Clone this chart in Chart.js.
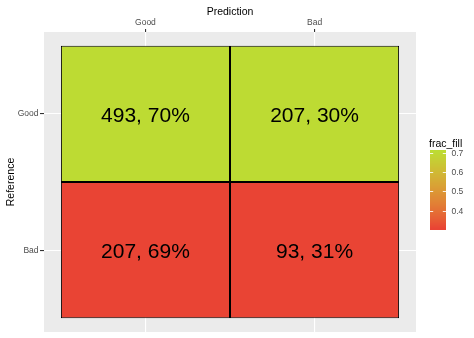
<!DOCTYPE html>
<html>
<head>
<meta charset="utf-8">
<script src="https://cdn.jsdelivr.net/npm/chart.js@4/dist/chart.umd.min.js"></script>
<style>
  html, body { margin: 0; padding: 0; background: #ffffff; }
  #wrap { width: 474px; height: 338px; }
</style>
</head>
<body>
<div id="wrap"><canvas id="c" width="474" height="338"></canvas></div>
<script>
// Confusion matrix: rows = reference class, columns = predicted class
const predLabels = ['Good', 'Bad'];
const refLabels = ['Good', 'Bad'];
const counts = [[493, 207], [207, 93]];
const percents = [[70, 30], [69, 31]];
const fracFill = [[0.704, 0.704], [0.31, 0.31]];
const legendTicks = [0.4, 0.5, 0.6, 0.7];

const FONT = "'Liberation Sans', Arial, Helvetica, sans-serif";
const lowRGB = [233, 68, 52];
const highRGB = [189, 219, 51];

// --- colour scale: interpolate in CIE Lab between low and high ---
function toLin(c) { c /= 255; return c <= 0.04045 ? c / 12.92 : Math.pow((c + 0.055) / 1.055, 2.4); }
function fromLin(c) {
  const v = c <= 0.0031308 ? 12.92 * c : 1.055 * Math.pow(c, 1 / 2.4) - 0.055;
  return Math.round(Math.max(0, Math.min(1, v)) * 255);
}
function rgbToLab(rgb) {
  const R = toLin(rgb[0]), G = toLin(rgb[1]), B = toLin(rgb[2]);
  const X = (0.4124 * R + 0.3576 * G + 0.1805 * B) / 0.95047;
  const Y = 0.2126 * R + 0.7152 * G + 0.0722 * B;
  const Z = (0.0193 * R + 0.1192 * G + 0.9505 * B) / 1.08883;
  const f = t => t > 0.008856 ? Math.cbrt(t) : 7.787 * t + 16 / 116;
  const fx = f(X), fy = f(Y), fz = f(Z);
  return [116 * fy - 16, 500 * (fx - fy), 200 * (fy - fz)];
}
function labToRgb(lab) {
  const fy = (lab[0] + 16) / 116, fx = fy + lab[1] / 500, fz = fy - lab[2] / 200;
  const fi = t => t * t * t > 0.008856 ? t * t * t : (t - 16 / 116) / 7.787;
  const X = fi(fx) * 0.95047, Y = fi(fy), Z = fi(fz) * 1.08883;
  const R = 3.2406 * X - 1.5372 * Y - 0.4986 * Z;
  const G = -0.9689 * X + 1.8758 * Y + 0.0415 * Z;
  const B = 0.0557 * X - 0.2040 * Y + 1.0570 * Z;
  return [fromLin(R), fromLin(G), fromLin(B)];
}
const lowLab = rgbToLab(lowRGB), highLab = rgbToLab(highRGB);
const allFrac = fracFill.flat();
const fracMin = Math.min(...allFrac), fracMax = Math.max(...allFrac);
function fillColor(v) {
  const t = Math.max(0, Math.min(1, (v - fracMin) / (fracMax - fracMin)));
  const c = labToRgb(lowLab.map((l, k) => l + (highLab[k] - l) * t));
  return `rgb(${c[0]},${c[1]},${c[2]})`;
}

// one floating-bar dataset per reference row; each bar is one tile
const nRef = refLabels.length;
const datasets = refLabels.map((ref, i) => ({
  label: ref,
  data: predLabels.map((p, j) => ({ x: j + 1, y: [nRef - i - 0.5, nRef - i + 0.5] })),
  backgroundColor: predLabels.map((p, j) => fillColor(fracFill[i][j])),
  borderColor: '#000000',
  borderWidth: 1,
  borderSkipped: false,
  inflateAmount: 0,
  barPercentage: 1,
  categoryPercentage: 1,
  grouped: false
}));

const panelBg = {
  id: 'panelBg',
  beforeDraw(chart) {
    const { ctx, chartArea: a } = chart;
    ctx.save();
    ctx.fillStyle = '#EBEBEB';
    ctx.fillRect(a.left, a.top, a.right - a.left, a.bottom - a.top);
    ctx.restore();
  }
};

const cellText = {
  id: 'cellText',
  afterDatasetsDraw(chart) {
    const ctx = chart.ctx;
    ctx.save();
    ctx.font = `21px ${FONT}`;
    ctx.fillStyle = '#000000';
    ctx.textAlign = 'center';
    ctx.textBaseline = 'middle';
    refLabels.forEach((ref, i) => {
      chart.getDatasetMeta(i).data.forEach((el, j) => {
        const p = el.getProps(['x', 'y', 'base'], true);
        ctx.fillText(`${counts[i][j]}, ${percents[i][j]}%`, p.x, (p.y + p.base) / 2 + 2.5);
      });
    });
    ctx.restore();
  }
};

// colour bar legend for frac_fill
const colourBar = {
  id: 'colourBar',
  afterDraw(chart) {
    const ctx = chart.ctx;
    const x0 = 430, w = 16, top = 150, h = 80, nbin = 20;
    const bottom = top + h;
    const posOf = v => bottom - (0.5 + (v - fracMin) / (fracMax - fracMin) * (nbin - 1)) / nbin * h;
    ctx.save();
    for (let py = 0; py < h; py++) {
      const frac = (h - py - 0.5) / h * nbin;
      const v = fracMin + (frac - 0.5) / (nbin - 1) * (fracMax - fracMin);
      ctx.fillStyle = fillColor(v);
      ctx.fillRect(x0, top + py, w, 1);
    }
    ctx.strokeStyle = 'rgba(255,255,255,0.85)';
    ctx.lineWidth = 1;
    ctx.font = `8.5px ${FONT}`;
    ctx.fillStyle = '#4D4D4D';
    ctx.textAlign = 'left';
    ctx.textBaseline = 'middle';
    legendTicks.forEach(v => {
      const y = Math.round(posOf(v)) + 0.5;
      ctx.beginPath();
      ctx.moveTo(x0, y); ctx.lineTo(x0 + 3.2, y);
      ctx.moveTo(x0 + w - 3.2, y); ctx.lineTo(x0 + w, y);
      ctx.stroke();
      ctx.fillText(v.toFixed(1), 451.5, y);
    });
    ctx.font = `10.5px ${FONT}`;
    ctx.fillStyle = '#000000';
    ctx.textBaseline = 'alphabetic';
    ctx.fillText('frac_fill', 429, 146.5);
    ctx.restore();
  }
};

new Chart(document.getElementById('c'), {
  type: 'bar',
  data: { datasets },
  options: {
    responsive: false,
    animation: false,
    devicePixelRatio: 1,
    layout: { padding: { left: 0, top: 0, right: 58, bottom: 6 } },
    plugins: { legend: { display: false }, tooltip: { enabled: false } },
    scales: {
      x: {
        type: 'linear',
        position: 'top',
        offset: false,
        min: 0.4,
        max: 2.6,
        afterBuildTicks: s => { s.ticks = predLabels.map((p, j) => ({ value: j + 1 })); },
        afterFit: s => { s.height = 32; },
        ticks: {
          callback: v => predLabels[Math.round(v) - 1],
          color: '#4D4D4D',
          font: { family: FONT, size: 8.5 },
          padding: 1,
          maxRotation: 0
        },
        grid: { offset: false, color: '#FFFFFF', lineWidth: 1.1, tickColor: '#333333', tickLength: 3, drawTicks: true },
        border: { display: false },
        title: {
          display: true,
          text: 'Prediction',
          color: '#000000',
          font: { family: FONT, size: 10.5 },
          padding: { top: 6, bottom: 0 }
        }
      },
      y: {
        type: 'linear',
        min: 0.4,
        max: 2.6,
        afterBuildTicks: s => { s.ticks = refLabels.map((r, i) => ({ value: nRef - i })); },
        afterFit: s => { s.width = 44; },
        ticks: {
          callback: v => refLabels[nRef - Math.round(v)],
          color: '#4D4D4D',
          font: { family: FONT, size: 8.5, lineHeight: 1 },
          padding: 1.5
        },
        grid: { color: '#FFFFFF', lineWidth: 1.1, tickColor: '#333333', tickLength: 4, drawTicks: true },
        border: { display: false },
        title: {
          display: true,
          text: 'Reference',
          color: '#000000',
          font: { family: FONT, size: 10.5 },
          padding: { top: 5, bottom: 0 }
        }
      }
    }
  },
  plugins: [panelBg, cellText, colourBar]
});
</script>
</body>
</html>
